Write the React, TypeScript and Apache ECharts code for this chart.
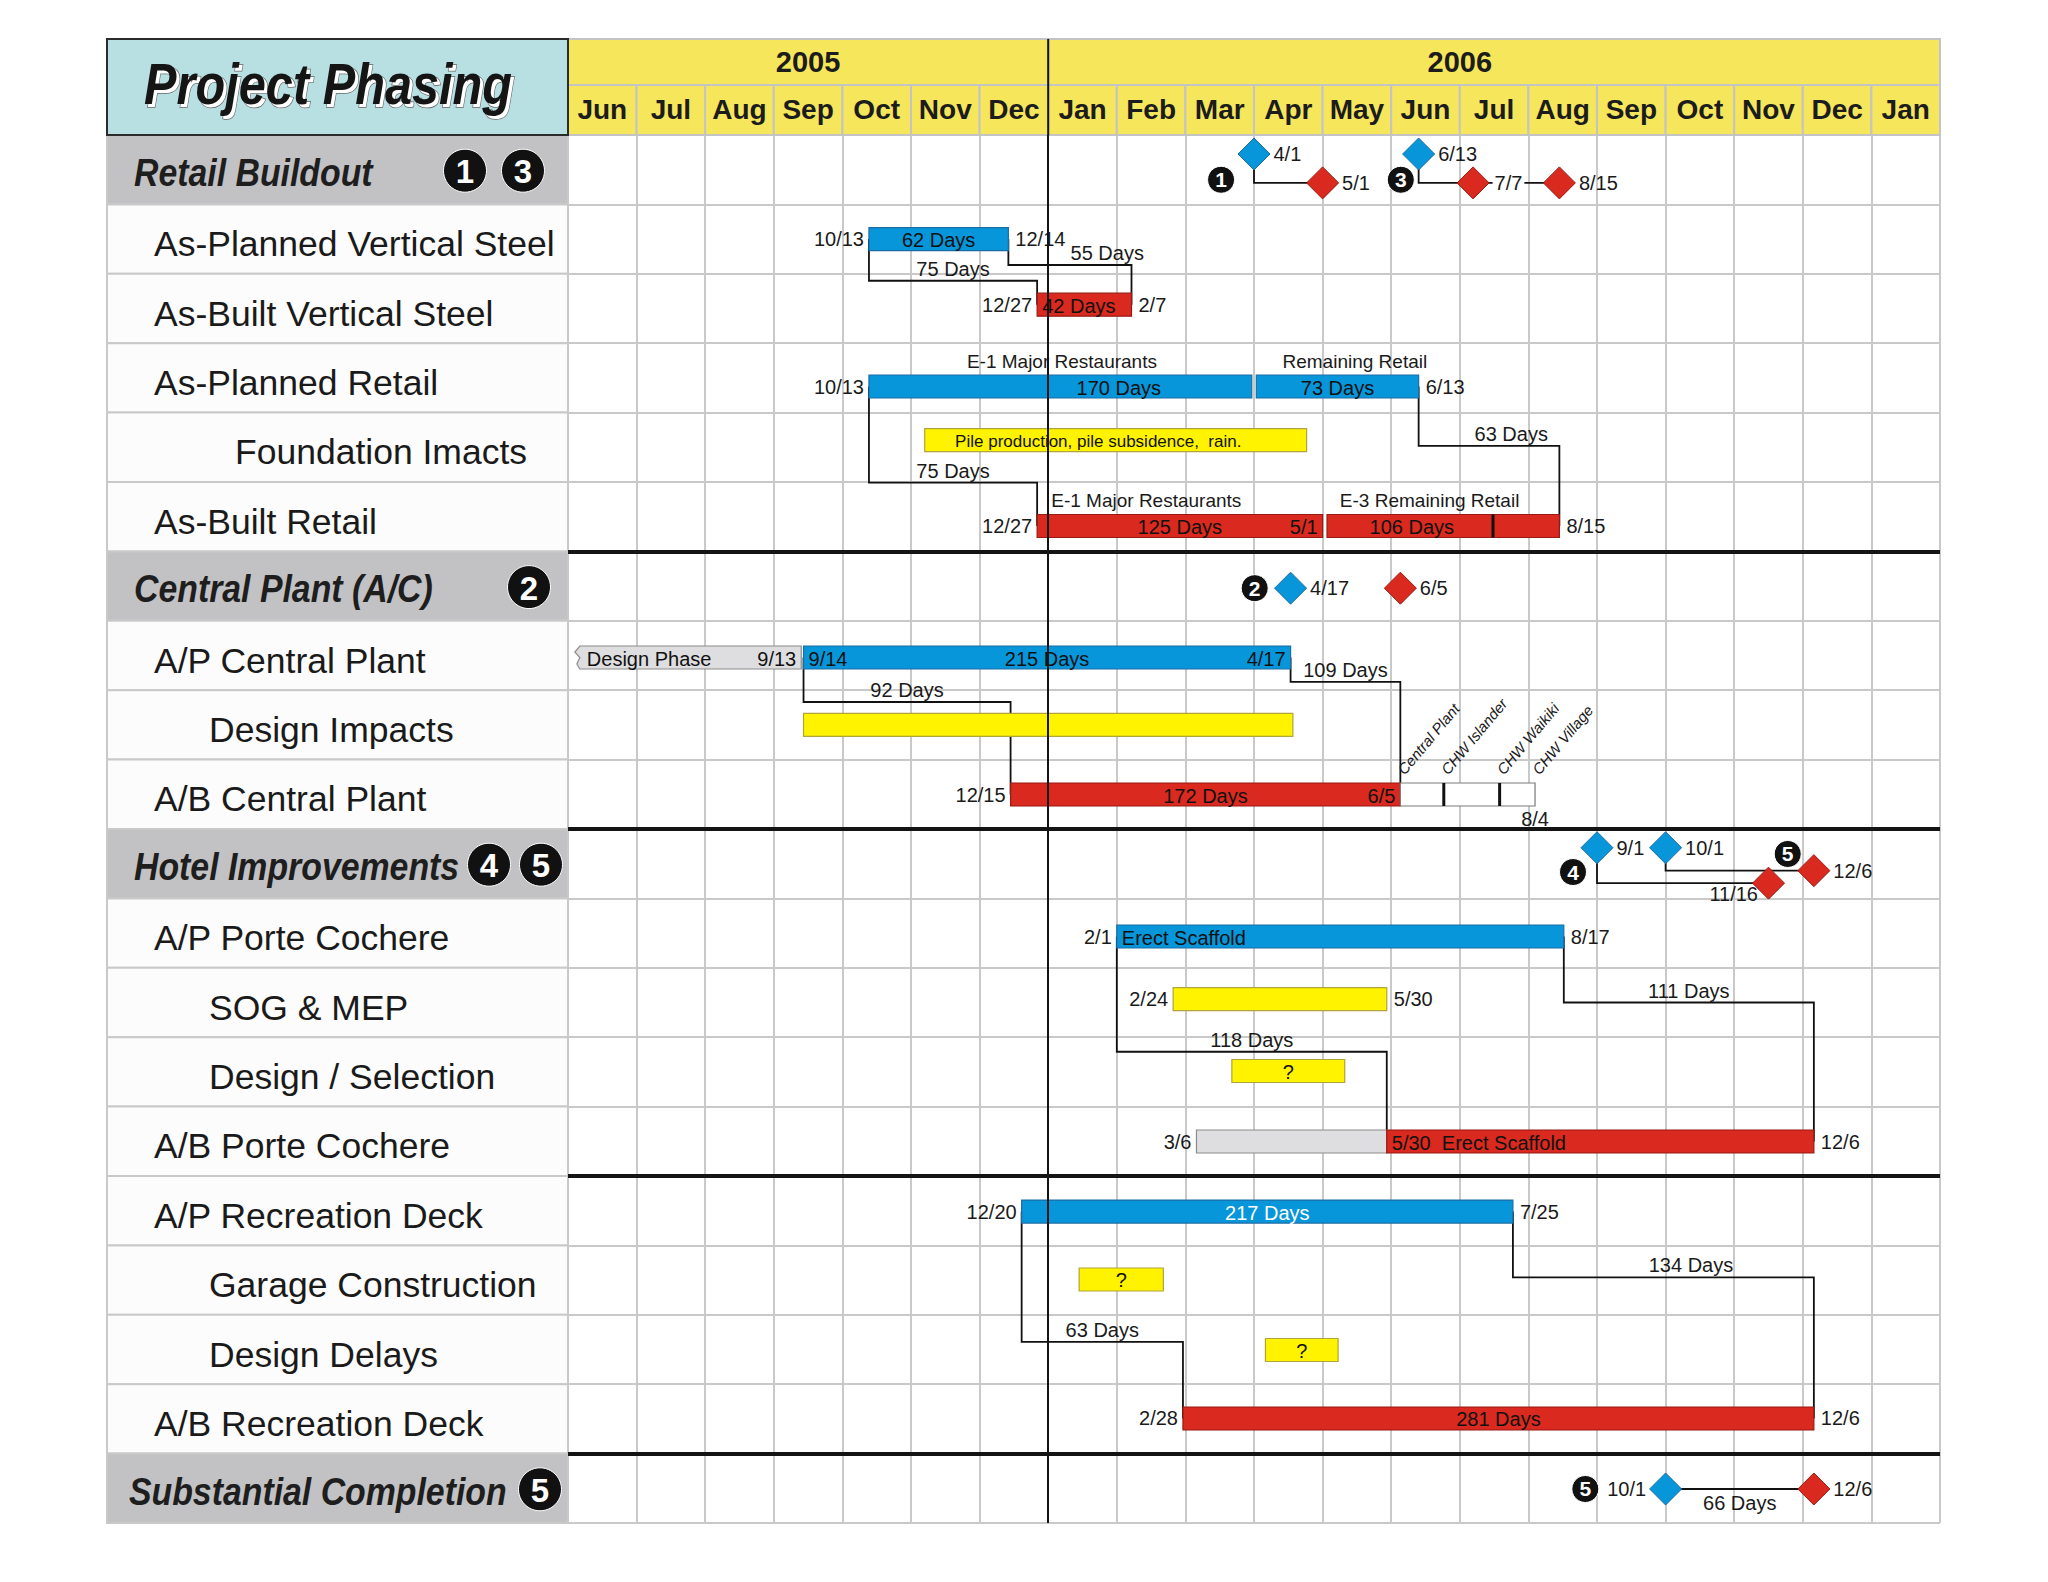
import React, { useEffect, useRef } from 'react';
import * as echarts from 'echarts';

const FONT = "'Liberation Sans', Arial, Helvetica, sans-serif";

// ---------- axis categories ----------
const MONTHS = ['Jun', 'Jul', 'Aug', 'Sep', 'Oct', 'Nov', 'Dec', 'Jan', 'Feb', 'Mar', 'Apr', 'May', 'Jun', 'Jul', 'Aug', 'Sep', 'Oct', 'Nov', 'Dec', 'Jan'];
// from/to = months covered by the year label; cell runs to the next year's start (or the axis end)
const YEARS = [
  { label: '2005', from: 0, to: 7 },
  { label: '2006', from: 7, to: 19 },
];

// ---------- row labels ----------
const ROW_LABELS = [
  'Retail Buildout', 'As-Planned Vertical Steel', 'As-Built Vertical Steel', 'As-Planned Retail', 'Foundation Imacts', 'As-Built Retail',
  'Central Plant (A/C)', 'A/P Central Plant', 'Design Impacts', 'A/B Central Plant',
  'Hotel Improvements', 'A/P Porte Cochere', 'SOG & MEP', 'Design / Selection', 'A/B Porte Cochere',
  'A/P Recreation Deck', 'Garage Construction', 'Design Delays', 'A/B Recreation Deck',
  'Substantial Completion',
];
const ROW_KINDS = [
  'section', 'item', 'item', 'item', 'sub2', 'item',
  'section', 'item', 'sub', 'item',
  'section', 'item', 'sub', 'sub', 'item',
  'item', 'sub', 'sub', 'item',
  'section',
];
const ROW_BADGES = [['1', '3'], [], [], [], [], [], ['2'], [], [], [], ['4', '5'], [], [], [], [], [], [], [], [], ['5']];
const SECTION_RULES = [6, 10, 15, 19];
const YEAR_RULE = 7;
const AXIS_MAX = 20;

// ---------- bars (dates, row position y in axis units) ----------
const BARS: any[] = [
  { start: '2005-10-13', end: '2005-12-14', y: 1.5, kind: 'blue', left: '10/13', right: '12/14', inner: [{ text: '62 Days' }] },
  { start: '2005-12-27', end: '2006-02-07', y: 2.445, kind: 'red', left: '12/27', right: '2/7', inner: [{ text: '42 Days', align: 'left' }] },
  { start: '2005-10-13', end: '2006-03-31', y: 3.624, kind: 'blue', left: '10/13', inner: [{ text: '170 Days', at: 8.03 }] },
  { start: '2006-04-02', end: '2006-06-13', y: 3.624, kind: 'blue', right: '6/13', inner: [{ text: '73 Days' }] },
  { start: '2005-11-07', end: '2006-04-24', y: 4.397, kind: 'yellow', inner: [{ text: 'Pile production, pile subsidence,  rain.', small: true, at: 7.73 }] },
  { start: '2005-12-27', end: '2006-05-01', y: 5.634, kind: 'red', left: '12/27', inner: [{ text: '125 Days' }, { text: '5/1', align: 'right' }] },
  { start: '2006-05-03', end: '2006-08-15', y: 5.634, kind: 'red', right: '8/15', inner: [{ text: '106 Days', at: 12.3 }], ticks: ['2006-07-16'] },
  { start: '2005-06-04', end: '2005-09-13', y: 7.529, kind: 'gray', notch: true, inner: [{ text: 'Design Phase', align: 'left' }, { text: '9/13', align: 'right' }] },
  { start: '2005-09-14', end: '2006-04-17', y: 7.529, kind: 'blue', inner: [{ text: '9/14', align: 'left' }, { text: '215 Days' }, { text: '4/17', align: 'right' }] },
  { start: '2005-09-14', end: '2006-04-18', y: 8.501, kind: 'yellow' },
  { start: '2005-12-15', end: '2006-06-05', y: 9.503, kind: 'red', left: '12/15', inner: [{ text: '172 Days' }, { text: '6/5', align: 'right' }] },
  {
    start: '2006-06-05', end: '2006-08-04', y: 9.503, kind: 'white', below: '8/4',
    dividers: ['2006-06-24', '2006-07-19'],
    tags: [['Central Plant', '2006-06-05'], ['CHW Islander', '2006-06-24'], ['CHW Waikiki', '2006-07-19'], ['CHW Village', '2006-08-04']],
  },
  { start: '2006-02-01', end: '2006-08-17', y: 11.549, kind: 'blue', left: '2/1', right: '8/17', inner: [{ text: 'Erect Scaffold', align: 'left' }] },
  { start: '2006-02-24', end: '2006-05-30', y: 12.45, kind: 'yellow', left: '2/24', right: '5/30' },
  { start: '2006-03-22', end: '2006-05-11', y: 13.487, kind: 'yellow', inner: [{ text: '?' }] },
  { start: '2006-03-06', end: '2006-05-30', y: 14.503, kind: 'gray', left: '3/6' },
  { start: '2006-05-30', end: '2006-12-06', y: 14.503, kind: 'red', right: '12/6', inner: [{ text: '5/30  Erect Scaffold', align: 'left' }] },
  { start: '2005-12-20', end: '2006-07-25', y: 15.512, kind: 'blue', left: '12/20', right: '7/25', inner: [{ text: '217 Days', light: true }] },
  { start: '2006-01-15', end: '2006-02-20', y: 16.491, kind: 'yellow', inner: [{ text: '?' }] },
  { start: '2006-04-06', end: '2006-05-08', y: 17.507, kind: 'yellow', inner: [{ text: '?' }] },
  { start: '2006-02-28', end: '2006-12-06', y: 18.494, kind: 'red', left: '2/28', right: '12/6', inner: [{ text: '281 Days' }] },
];

// ---------- dependency connectors ----------
const CONNECTORS: any[] = [
  { from: ['2006-04-01', 0.274], level: 0.69, to: ['2006-05-01', 0.69] },
  { from: ['2006-06-13', 0.274], level: 0.69, to: ['2006-07-07', 0.69] },
  { from: ['2006-07-07', 0.69], level: 0.69, to: ['2006-08-15', 0.69] },
  { from: ['2005-10-13', 1.5], level: 2.1, to: ['2005-12-27', 2.445], label: '75 Days' },
  { from: ['2005-12-14', 1.5], level: 1.873, to: ['2006-02-07', 2.445], label: '55 Days', labelX: 7.86 },
  { from: ['2005-10-13', 3.624], level: 5.01, to: ['2005-12-27', 5.634], label: '75 Days' },
  { from: ['2006-06-13', 3.624], level: 4.48, to: ['2006-08-15', 5.634], label: '63 Days', labelX: 13.75 },
  { from: ['2005-09-14', 7.529], level: 8.17, to: ['2005-12-15', 9.503], label: '92 Days' },
  { from: ['2006-04-17', 7.529], level: 7.88, to: ['2006-06-05', 9.503], label: '109 Days' },
  { from: ['2006-09-01', 10.27], level: 10.78, to: ['2006-11-16', 10.78] },
  { from: ['2006-10-01', 10.27], level: 10.6, to: ['2006-12-06', 10.6] },
  { from: ['2006-08-17', 11.549], level: 12.5, to: ['2006-12-06', 14.503], label: '111 Days' },
  { from: ['2006-02-01', 11.549], level: 13.21, to: ['2006-05-30', 14.503], label: '118 Days' },
  { from: ['2005-12-20', 15.512], level: 17.39, to: ['2006-02-28', 18.494], label: '63 Days' },
  { from: ['2006-07-25', 15.512], level: 16.46, to: ['2006-12-06', 18.494], label: '134 Days', labelX: 16.37 },
  { from: ['2006-10-01', 19.51], level: 19.51, to: ['2006-12-06', 19.51], label: '66 Days', below: true },
];

// ---------- milestones ----------
const MILESTONES: any[] = [
  { date: '2006-04-01', y: 0.274, color: 'blue', label: '4/1' },
  { date: '2006-05-01', y: 0.69, color: 'red', label: '5/1' },
  { date: '2006-06-13', y: 0.274, color: 'blue', label: '6/13' },
  { date: '2006-07-07', y: 0.69, color: 'red', label: '7/7', masked: true },
  { date: '2006-08-15', y: 0.69, color: 'red', label: '8/15' },
  { date: '2006-04-17', y: 6.53, color: 'blue', label: '4/17' },
  { date: '2006-06-05', y: 6.53, color: 'red', label: '6/5' },
  { date: '2006-09-01', y: 10.27, color: 'blue', label: '9/1' },
  { date: '2006-10-01', y: 10.27, color: 'blue', label: '10/1' },
  { date: '2006-11-16', y: 10.78, color: 'red', label: '11/16', side: 'belowLeft' },
  { date: '2006-12-06', y: 10.6, color: 'red', label: '12/6' },
  { date: '2006-10-01', y: 19.51, color: 'blue', label: '10/1', side: 'left' },
  { date: '2006-12-06', y: 19.51, color: 'red', label: '12/6' },
];

// ---------- numbered badges inside the chart (axis units) ----------
const BADGES = [
  { n: '1', x: 9.52, y: 0.645 },
  { n: '3', x: 12.14, y: 0.645 },
  { n: '2', x: 10.01, y: 6.53 },
  { n: '4', x: 14.65, y: 10.62 },
  { n: '5', x: 17.78, y: 10.36 },
  { n: '5', x: 14.83, y: 19.51 },
];

// ---------- free notes above bars (axis units) ----------
const NOTES = [
  { text: 'E-1 Major Restaurants', x: 7.2, y: 3.26 },
  { text: 'Remaining Retail', x: 11.47, y: 3.26 },
  { text: 'E-1 Major Restaurants', x: 8.43, y: 5.26 },
  { text: 'E-3 Remaining Retail', x: 12.56, y: 5.26 },
];

// ---------- helpers / styles ----------
function toX(date: string): number {
  const [y, m, d] = date.split('-').map(Number);
  const idx = (y - 2005) * 12 + (m - 6);
  const dim = new Date(Date.UTC(y, m, 0)).getUTCDate();
  return idx + (d - 1) / dim;
}

const COLORS: any = {
  blue: { fill: '#0796DA', stroke: '#1C6CA5' },
  red: { fill: '#DA291E', stroke: '#981B13' },
  yellow: { fill: '#FFF300', stroke: '#B0A43A' },
  gray: { fill: '#DEDEE1', stroke: '#8C8C8C' },
  white: { fill: '#FFFFFF', stroke: '#7A7A7A' },
};
const GRID_LEFT = 568, GRID_TOP = 135, GRID_RIGHT = 1940, GRID_BOTTOM = 1523;
const COL_LEFT = 107, HEAD_TOP = 39, YEAR_H = 46;
const BAR_H = 23;
const INDENT: any = { section: 27, item: 47, sub: 102, sub2: 128 };
// badge layout in the label column: distance of the last badge from the column's right edge, and spacing
const BADGE_LAYOUT: any = { 0: { right: 45, gap: 58 }, 6: { right: 39, gap: 52 }, 10: { right: 27, gap: 52 }, 19: { right: 28, gap: 52 } };
const TEXT_COLOR = '#1a1a1a';
const GRID_LINE = '#C9C9C9';

function txt(text: string, x: number, y: number, align: string, extra: any = {}) {
  return {
    type: 'text', x, y,
    style: { text, fill: TEXT_COLOR, fontSize: 20, fontFamily: FONT, align, verticalAlign: 'middle', ...extra },
  };
}

const HEADER_ITEMS = [
  ...MONTHS.map((m, i) => ({ type: 'month', label: m, from: i, to: i + 1, cellTo: i + 1 })),
  ...YEARS.map((y, k) => ({ type: 'year', label: y.label, from: y.from, to: y.to, cellTo: k + 1 < YEARS.length ? YEARS[k + 1].from : AXIS_MAX })),
];

function buildOption(): any {
  const gridW = GRID_RIGHT - GRID_LEFT;
  const gridH = GRID_BOTTOM - GRID_TOP;
  return {
    animation: false,
    backgroundColor: '#ffffff',
    grid: [
      { left: GRID_LEFT, top: GRID_TOP, width: gridW, height: gridH, containLabel: false },
      { left: GRID_LEFT, top: HEAD_TOP, width: gridW, height: GRID_TOP - HEAD_TOP, containLabel: false },
      { left: COL_LEFT, top: GRID_TOP, width: GRID_LEFT - COL_LEFT, height: gridH, containLabel: false },
    ],
    xAxis: [
      {
        gridIndex: 0, type: 'value', min: 0, max: AXIS_MAX, interval: 1,
        axisLabel: { show: false }, axisLine: { show: false }, axisTick: { show: false },
        splitLine: { show: true, lineStyle: { color: GRID_LINE, width: 2 } },
      },
      { gridIndex: 1, type: 'value', min: 0, max: AXIS_MAX, show: false },
      { gridIndex: 2, type: 'value', min: 0, max: 1, show: false },
    ],
    yAxis: [
      {
        gridIndex: 0, type: 'value', min: 0, max: 20, interval: 1, inverse: true,
        axisLabel: { show: false }, axisLine: { show: false }, axisTick: { show: false },
        splitLine: { show: true, lineStyle: { color: GRID_LINE, width: 2 } },
      },
      { gridIndex: 1, type: 'value', min: 0, max: 1, inverse: true, show: false },
      { gridIndex: 2, type: 'value', min: 0, max: 20, inverse: true, show: false },
    ],
    graphic: [
      { type: 'rect', x: COL_LEFT, y: HEAD_TOP, shape: { x: 0, y: 0, width: GRID_LEFT - COL_LEFT, height: GRID_TOP - HEAD_TOP }, style: { fill: '#B8E0E3', stroke: '#2B2B2B', lineWidth: 2 }, z: 10 },
      { type: 'text', x: 147, y: 87, scaleX: 0.84, style: { text: 'Project Phasing', fill: '#ffffff', stroke: '#666666', lineWidth: 1.5, fontSize: 58, fontWeight: 'bold', fontStyle: 'italic', fontFamily: FONT, verticalAlign: 'middle' }, z: 11 },
      { type: 'text', x: 144, y: 84, scaleX: 0.84, style: { text: 'Project Phasing', fill: '#151515', fontSize: 58, fontWeight: 'bold', fontStyle: 'italic', fontFamily: FONT, verticalAlign: 'middle' }, z: 12 },
    ],
    series: [
      // header (years + months)
      {
        type: 'custom', xAxisIndex: 1, yAxisIndex: 1, silent: true, z: 2,
        data: HEADER_ITEMS.map((h) => [h.from, 0.5]),
        renderItem: (params: any, api: any) => {
          const h = HEADER_ITEMS[params.dataIndex];
          const cs = params.coordSys;
          const x0 = api.coord([h.from, 0])[0];
          const xc = api.coord([h.cellTo, 0])[0];
          const xt = (x0 + api.coord([h.to, 0])[0]) / 2;
          const isMonth = h.type === 'month';
          const y0 = isMonth ? cs.y + YEAR_H : cs.y;
          const hh = isMonth ? cs.height - YEAR_H : YEAR_H;
          const kids: any[] = [
            { type: 'rect', shape: { x: x0, y: y0, width: xc - x0, height: hh }, style: { fill: '#F6E65C', stroke: '#C4C4C4', lineWidth: 2 } },
            txt(h.label, xt, y0 + hh / 2 + (isMonth ? -1 : 0), 'center', { fontSize: isMonth ? 28 : 29, fontWeight: 'bold', fill: '#1c1c1c' }),
          ];
          if (!isMonth && h.from === YEAR_RULE) {
            kids.push({ type: 'line', shape: { x1: x0, y1: cs.y, x2: x0, y2: cs.y + cs.height }, style: { stroke: '#141414', lineWidth: 2 } });
          }
          return { type: 'group', children: kids };
        },
      },
      // left label column
      {
        type: 'custom', xAxisIndex: 2, yAxisIndex: 2, silent: true, z: 2,
        data: ROW_LABELS.map((_, i) => [0.5, i + 0.5]),
        renderItem: (params: any, api: any) => {
          const i = params.dataIndex;
          const cs = params.coordSys;
          const kind = ROW_KINDS[i];
          const top = api.coord([0, i])[1];
          const bot = api.coord([0, i + 1])[1];
          const mid = (top + bot) / 2;
          const isSection = kind === 'section';
          const kids: any[] = [
            { type: 'rect', shape: { x: cs.x, y: top, width: cs.width, height: bot - top }, style: { fill: isSection ? '#C2C2C4' : '#FCFCFC', stroke: GRID_LINE, lineWidth: 2 } },
          ];
          if (isSection) {
            kids.push({
              type: 'text', x: cs.x + (i === ROW_LABELS.length - 1 ? 22 : INDENT.section), y: mid + 3, scaleX: 0.89,
              style: { text: ROW_LABELS[i], fill: '#1e1e1e', fontSize: 38, fontWeight: 'bold', fontStyle: 'italic', fontFamily: FONT, verticalAlign: 'middle' },
            });
          } else {
            kids.push(txt(ROW_LABELS[i], cs.x + INDENT[kind], mid + 5, 'left', { fontSize: 35.5 }));
          }
          const bs = ROW_BADGES[i];
          const lay = BADGE_LAYOUT[i] || { right: 31, gap: 52 };
          bs.forEach((n, k) => {
            const cx = cs.x + cs.width - lay.right - (bs.length - 1 - k) * lay.gap;
            kids.push({ type: 'circle', shape: { cx, cy: mid + 1, r: 21.5 }, style: { fill: '#111111', stroke: '#ffffff', lineWidth: 1 } });
            kids.push(txt(n, cx, mid + 2, 'center', { fontSize: 33, fontWeight: 'bold', fill: '#ffffff' }));
          });
          return { type: 'group', children: kids };
        },
      },
      // connectors
      {
        type: 'custom', xAxisIndex: 0, yAxisIndex: 0, silent: true, z: 2,
        data: CONNECTORS.map((c) => [toX(c.from[0]), c.from[1]]),
        renderItem: (params: any, api: any) => {
          const c = CONNECTORS[params.dataIndex];
          const ax = toX(c.from[0]);
          const bx = toX(c.to[0]);
          const pts = [[ax, c.from[1]], [ax, c.level], [bx, c.level], [bx, c.to[1]]].map((p) => api.coord(p));
          const kids: any[] = [
            { type: 'polyline', shape: { points: pts }, style: { stroke: '#111111', lineWidth: 1.8, fill: 'none' } },
          ];
          if (c.label) {
            const lx = c.labelX != null ? api.coord([c.labelX, c.level])[0] : (pts[1][0] + pts[2][0]) / 2;
            const ly = pts[1][1] + (c.below ? 14 : -12);
            kids.push(txt(c.label, lx, ly, 'center'));
          }
          return { type: 'group', children: kids };
        },
      },
      // bars
      {
        type: 'custom', xAxisIndex: 0, yAxisIndex: 0, silent: true, z: 3,
        data: BARS.map((b) => [toX(b.start), b.y]),
        renderItem: (params: any, api: any) => {
          const b = BARS[params.dataIndex];
          const c = COLORS[b.kind];
          const p0 = api.coord([toX(b.start), b.y]);
          const x0 = p0[0];
          const yc = p0[1];
          const x1 = api.coord([toX(b.end), b.y])[0];
          const top = yc - BAR_H / 2;
          const bot = yc + BAR_H / 2;
          const kids: any[] = [];
          if (b.notch) {
            kids.push({
              type: 'polygon',
              shape: { points: [[x0 + 5, top], [x1, top], [x1, bot], [x0 + 5, bot], [x0 + 2, bot - 5], [x0 + 5, yc], [x0, top + 6]] },
              style: { fill: c.fill, stroke: c.stroke, lineWidth: 1.2 },
            });
          } else {
            kids.push({ type: 'rect', shape: { x: x0, y: top, width: x1 - x0, height: BAR_H }, style: { fill: c.fill, stroke: c.stroke, lineWidth: 1.2 } });
          }
          [...(b.ticks || []), ...(b.dividers || [])].forEach((d: string) => {
            const tx = api.coord([toX(d), b.y])[0];
            kids.push({ type: 'line', shape: { x1: tx, y1: top, x2: tx, y2: bot }, style: { stroke: '#111111', lineWidth: 3 } });
          });
          if (b.left) kids.push(txt(b.left, x0 - 5, yc, 'right'));
          if (b.right) kids.push(txt(b.right, x1 + 7, yc, 'left'));
          (b.inner || []).forEach((t: any) => {
            let x = (x0 + x1) / 2;
            let align = 'center';
            if (t.at != null) x = api.coord([t.at, b.y])[0];
            else if (t.align === 'left') { x = x0 + (b.notch ? 12 : 5); align = 'left'; }
            else if (t.align === 'right') { x = x1 - 5; align = 'right'; }
            kids.push(txt(t.text, x, yc + 1, align, { fill: t.light ? '#ffffff' : '#111111', fontSize: t.small ? 17 : 20 }));
          });
          if (b.below) kids.push(txt(b.below, x1, bot + 13, 'center'));
          (b.tags || []).forEach((tg: any) => {
            const tx = api.coord([toX(tg[1]), b.y])[0];
            kids.push({
              type: 'text', x: tx + 6, y: top - 6, rotation: (50 * Math.PI) / 180,
              style: { text: tg[0], fill: TEXT_COLOR, fontSize: 15, fontStyle: 'italic', fontFamily: FONT, align: 'left', verticalAlign: 'bottom' },
            });
          });
          return { type: 'group', children: kids };
        },
      },
      // notes above bars
      {
        type: 'custom', xAxisIndex: 0, yAxisIndex: 0, silent: true, z: 3,
        data: NOTES.map((n) => [n.x, n.y]),
        renderItem: (params: any, api: any) => {
          const n = NOTES[params.dataIndex];
          const p = api.coord([n.x, n.y]);
          return txt(n.text, p[0], p[1], 'center', { fontSize: 19 });
        },
      },
      // milestones
      {
        type: 'scatter', xAxisIndex: 0, yAxisIndex: 0, silent: true, z: 4,
        symbol: 'diamond', symbolSize: [32, 32],
        itemStyle: { opacity: 1 },
        emphasis: { disabled: true },
        label: { show: true, position: 'right', distance: 3, fontSize: 20, fontFamily: FONT, color: TEXT_COLOR, formatter: (p: any) => MILESTONES[p.dataIndex].label },
        data: MILESTONES.map((m) => {
          const lab: any = {};
          if (m.side === 'left') { lab.position = 'left'; lab.distance = 3; }
          if (m.side === 'belowLeft') { lab.position = 'left'; lab.distance = 0; lab.offset = [6, 11]; }
          if (m.masked) { lab.backgroundColor = '#ffffff'; lab.padding = [1, 2]; }
          return {
            value: [toX(m.date), m.y],
            itemStyle: { color: COLORS[m.color].fill, borderColor: COLORS[m.color].stroke, borderWidth: 1, opacity: 1 },
            label: lab,
          };
        }),
        markLine: {
          silent: true, symbol: ['none', 'none'], label: { show: false }, animation: false,
          lineStyle: { color: '#141414', width: 4, type: 'solid', opacity: 1 },
          emphasis: { disabled: true },
          data: [
            ...SECTION_RULES.map((v) => ({ yAxis: v })),
            { xAxis: YEAR_RULE, lineStyle: { color: '#141414', width: 2, type: 'solid' } },
          ],
        },
      },
      // numbered badges
      {
        type: 'scatter', xAxisIndex: 0, yAxisIndex: 0, silent: true, z: 5,
        symbol: 'circle', symbolSize: 27,
        emphasis: { disabled: true },
        itemStyle: { color: '#111111', borderColor: '#ffffff', borderWidth: 1, opacity: 1 },
        label: { show: true, position: 'inside', color: '#ffffff', fontWeight: 'bold', fontSize: 21, fontFamily: FONT, formatter: (p: any) => BADGES[p.dataIndex].n },
        data: BADGES.map((b) => [b.x, b.y]),
      },
    ],
  };
}

export default function App() {
  const ref = useRef<HTMLDivElement>(null);
  useEffect(() => {
    const chart = echarts.init(ref.current as HTMLDivElement, null, { renderer: 'svg' });
    chart.setOption(buildOption());
    return () => chart.dispose();
  }, []);
  return (
    <div
      ref={ref}
      style={{ position: 'absolute', left: 0, top: 0, width: 2048, height: 1582, background: '#ffffff' }}
    />
  );
}
